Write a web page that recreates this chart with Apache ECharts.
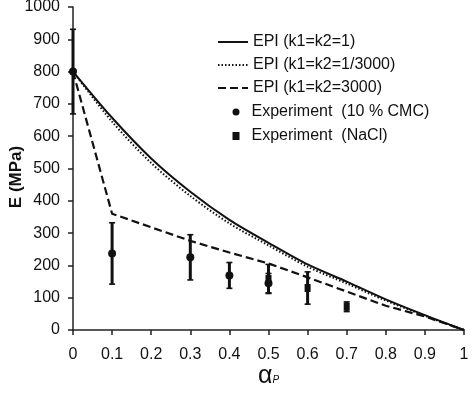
<!DOCTYPE html>
<html><head><meta charset="utf-8">
<script src="https://cdn.jsdelivr.net/npm/echarts@6/dist/echarts.min.js"></script>
<style>html,body{margin:0;padding:0;background:#fff}#c{width:474px;height:395px}</style>
</head><body><div id="c"></div>
<script>
var alphaGrid = [0, 0.1, 0.2, 0.3, 0.4, 0.5, 0.6, 0.7, 0.8, 0.9, 1];
var epi1 = [800, 657, 531, 428, 341, 270, 203, 150, 95, 46, 0];
var epi13000 = [800, 645, 517, 415, 330, 262, 196, 144, 91, 44, 0];
var epi3000 = [800, 360, 318, 276, 240, 206, 163, 119, 75, 42, 0];
var cmcX = [0, 0.1, 0.3, 0.4, 0.5];
var cmcE = [800, 237, 225, 169, 145];
var cmcErr = [131, 95, 70, 40, 30];
var naclX = [0.5, 0.6, 0.7];
var naclE = [158, 130, 72];
var naclErr = [45, 50, 15];
var yTicks = [0, 100, 200, 300, 400, 500, 600, 700, 800, 900, 1000];
var xTicks = [0, 0.1, 0.2, 0.3, 0.4, 0.5, 0.6, 0.7, 0.8, 0.9, 1];

function pairs(xs, ys){ return xs.map(function(x,i){ return [x, ys[i]]; }); }
function errData(xs, ys, es){ return xs.map(function(x,i){ return [x, ys[i]-es[i], ys[i]+es[i]]; }); }
function errRender(params, api){
  var x = api.value(0), lo = api.coord([x, api.value(1)]), hi = api.coord([x, api.value(2)]);
  var st = {stroke:'#111', lineWidth:3};
  var cap = {stroke:'#111', lineWidth:1.6};
  return {type:'group', children:[
    {type:'line', shape:{x1:lo[0], y1:lo[1], x2:hi[0], y2:hi[1]}, style:st},
    {type:'line', shape:{x1:lo[0]-3, y1:lo[1], x2:lo[0]+3, y2:lo[1]}, style:cap},
    {type:'line', shape:{x1:hi[0]-3, y1:hi[1], x2:hi[0]+3, y2:hi[1]}, style:cap}
  ]};
}
var FONT = '"Liberation Sans", Arial, sans-serif';
var chart = echarts.init(document.getElementById('c'), null, {renderer:'canvas'});
chart.setOption({
  animation:false,
  textStyle:{fontFamily:FONT, color:'#111'},
  grid:{left:73, right:10, top:7, bottom:65, containLabel:false, outerBoundsMode:'none'},
  legend:[{
    orient:'vertical', left:212, top:29, itemWidth:30, itemHeight:14, itemGap:7,
    itemStyle:{opacity:0},
    textStyle:{fontSize:16, color:'#111', fontFamily:FONT},
    data:['EPI (k1=k2=1)','EPI (k1=k2=1/3000)','EPI (k1=k2=3000)']
  },{
    orient:'vertical', left:227.5, top:99, itemWidth:7, itemHeight:8, itemGap:8,
    textStyle:{fontSize:16, color:'#111', fontFamily:FONT, lineHeight:16, padding:[0,0,0,7]},
    data:[{name:'Experiment  (10 % CMC)', icon:'circle'},{name:'Experiment  (NaCl)', icon:'rect'}]
  }],
  xAxis:{
    type:'value', min:0, max:1, interval:0.1,
    axisLine:{lineStyle:{color:'#222', width:1.5}},
    axisTick:{show:true, length:5, lineStyle:{color:'#222', width:1.5}},
    splitLine:{show:false},
    axisLabel:{fontSize:16, color:'#111', margin:17, fontFamily:FONT,
      formatter:function(v){ var t = xTicks.filter(function(k){return Math.abs(k-v)<1e-6;}); return t.length? String(t[0]) : ''; }},
    name:'{a|α}{p|P}', nameLocation:'middle', nameGap:34, nameMoveOverlap:false,
    nameTextStyle:{rich:{a:{fontSize:25, color:'#111', fontFamily:FONT}, p:{fontSize:10, fontStyle:'italic', color:'#111', fontFamily:FONT, padding:[8,0,0,0]}}}
  },
  yAxis:{
    type:'value', min:0, max:1000, interval:100,
    axisLine:{show:true, lineStyle:{color:'#222', width:1.5}},
    axisTick:{show:true, length:5, lineStyle:{color:'#222', width:1.5}},
    splitLine:{show:false},
    axisLabel:{fontSize:16, color:'#111', margin:13, fontFamily:FONT,
      formatter:function(v){ return yTicks.indexOf(v)>=0 ? String(v) : ''; }},
    name:'E (MPa)', nameLocation:'middle', nameGap:48, nameRotate:90, nameMoveOverlap:false,
    nameTextStyle:{fontSize:17, fontWeight:'bold', color:'#111', fontFamily:FONT, padding:[0,17,0,0]}
  },
  series:[
    {name:'EPI (k1=k2=1)', type:'line', data:pairs(alphaGrid, epi1), symbol:'none', smooth:0.3,
      lineStyle:{color:'#111', width:2, type:'solid'}, itemStyle:{color:'#111'}, z:3},
    {name:'EPI (k1=k2=1/3000)', type:'line', data:pairs(alphaGrid, epi13000), symbol:'none', smooth:0.3,
      lineStyle:{color:'#111', width:2, type:[1.5,2]}, itemStyle:{color:'#111'}, z:3},
    {name:'EPI (k1=k2=3000)', type:'line', data:pairs(alphaGrid, epi3000), symbol:'none',
      lineStyle:{color:'#111', width:2.2, type:[8,4]}, itemStyle:{color:'#111'}, z:3},
    {name:'errCMC', type:'custom', renderItem:errRender, data:errData(cmcX, cmcE, cmcErr), z:4, silent:true},
    {name:'errNaCl', type:'custom', renderItem:errRender, data:errData(naclX, naclE, naclErr), z:4, silent:true},
    {name:'Experiment  (10 % CMC)', type:'scatter', data:pairs(cmcX, cmcE), symbol:'circle', symbolSize:8,
      itemStyle:{color:'#111', opacity:1}, z:5},
    {name:'Experiment  (NaCl)', type:'scatter', data:pairs(naclX, naclE), symbol:'rect', symbolSize:[6,8],
      itemStyle:{color:'#111', opacity:1}, z:5}
  ]
});
</script></body></html>
